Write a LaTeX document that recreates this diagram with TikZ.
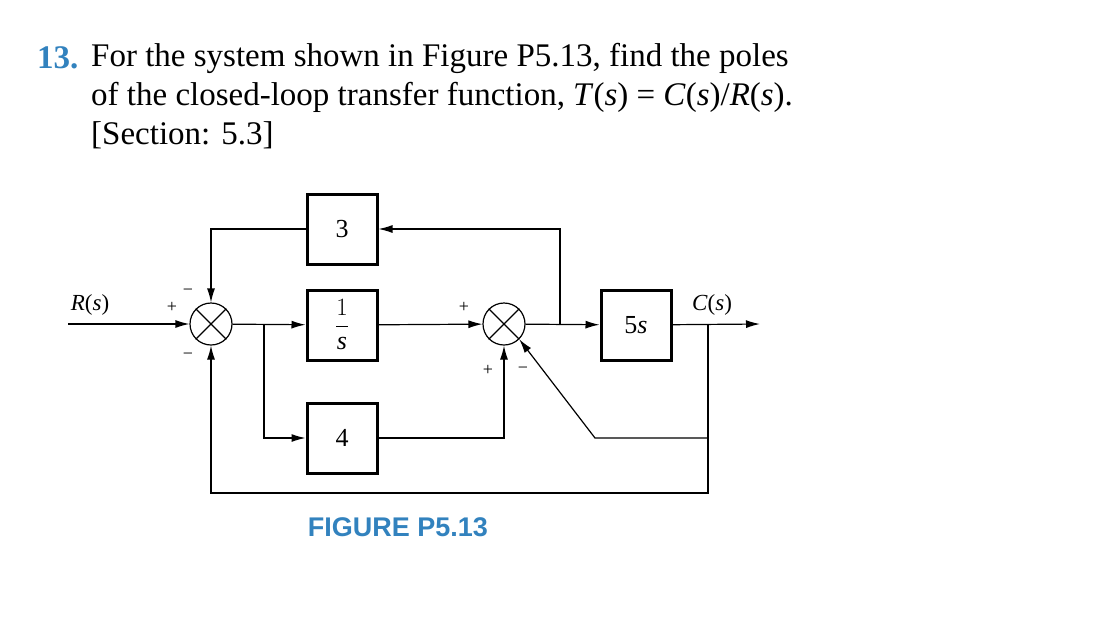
\documentclass[tikz,border=0pt]{standalone}
\usepackage{fontspec}
\setmainfont{Liberation Serif}
\newfontfamily\figfont{Liberation Sans}
\usetikzlibrary{arrows.meta}
\definecolor{bl}{RGB}{50,130,190}
\begin{document}
\begin{tikzpicture}[x=1pt,y=-1pt,
 blk/.style={draw,line width=3pt,minimum width=70pt,minimum height=70pt,inner sep=0pt,font=\fontsize{26}{28}\selectfont},
 sum/.style={draw,circle,minimum size=42pt,inner sep=0pt,line width=1.2pt},
 ln/.style={line width=1.2pt},
 ar/.style={ln,-{Latex[length=14pt,width=8pt]}},
 sg/.style={font=\fontsize{18}{18}\selectfont},
 txt/.style={anchor=west,inner sep=0pt,font=\fontsize{33}{35}\selectfont}]
\useasboundingbox (0,0) rectangle (1110,632);
\node[txt] (n) at (37,58) {\textcolor{bl}{\textbf{13.}}};
\node[txt] (l1) at (91,58) {For the system shown in Figure P5.13, find the poles};
\node[txt] (l2) at (91,97) {of the closed-loop transfer function, \textit{T}(\textit{s}) = \textit{C}(\textit{s})/\textit{R}(\textit{s}).};
\node[txt] (l3) at (91,135) {[Section: 5.3]};
\node[sum] (s1) at (211,324) {};
\node[sum] (s2) at (504,324) {};
\foreach \s in {s1,s2}{\draw[ln] (\s.north east)--(\s.south west) (\s.north west)--(\s.south east);}
\node[blk] (b3) at (342,229) {3};
\node[blk] (bi) at (342,325) {$\displaystyle\frac{1}{\textit{s}}$};
\node[blk] (b4) at (342,438) {4};
\node[blk] (b5) at (636,325) {5\textit{s}};
\coordinate (in) at (68,324);
\coordinate (out) at (760,324);
\coordinate (p1) at (264,324);
\coordinate (p2) at (560,324);
\coordinate (p3) at (708,324);
\node[font=\fontsize{23}{24}\selectfont] (R) at (90,305) {\textit{R}(\textit{s})};
\node[font=\fontsize{23}{24}\selectfont] (C) at (712,305) {\textit{C}(\textit{s})};
\draw[ar] (in)--(s1);
\draw[ar] (s1)--(bi);
\draw[ar] (bi)--(s2);
\draw[ar] (s2)--(b5);
\draw[ar] (b5)--(out);
\draw[ar] (p2)|-(b3);
\draw[ar] (b3.west)-|(s1.north);
\draw[ar] (p1)|-(b4);
\draw[ar] (b4.east)-|(s2.south);
\draw[ar] (p3)--(708,493)-|(s1.south);
\draw[ar] (p3)--(708,438)--(595,438)--(s2.-45);
\node[sg] (a1) at (172,307) {+};
\node[sg] (a2) at (188,292) {\textminus};
\node[sg] (a3) at (188,356) {\textminus};
\node[sg] (a4) at (464,307) {+};
\node[sg] (a5) at (488,370) {+};
\node[sg] (a6) at (523,370) {\textminus};
\node[font=\figfont\bfseries\fontsize{27}{29}\selectfont,text=bl] (f) at (398,527) {FIGURE P5.13};
\end{tikzpicture}
\end{document}
